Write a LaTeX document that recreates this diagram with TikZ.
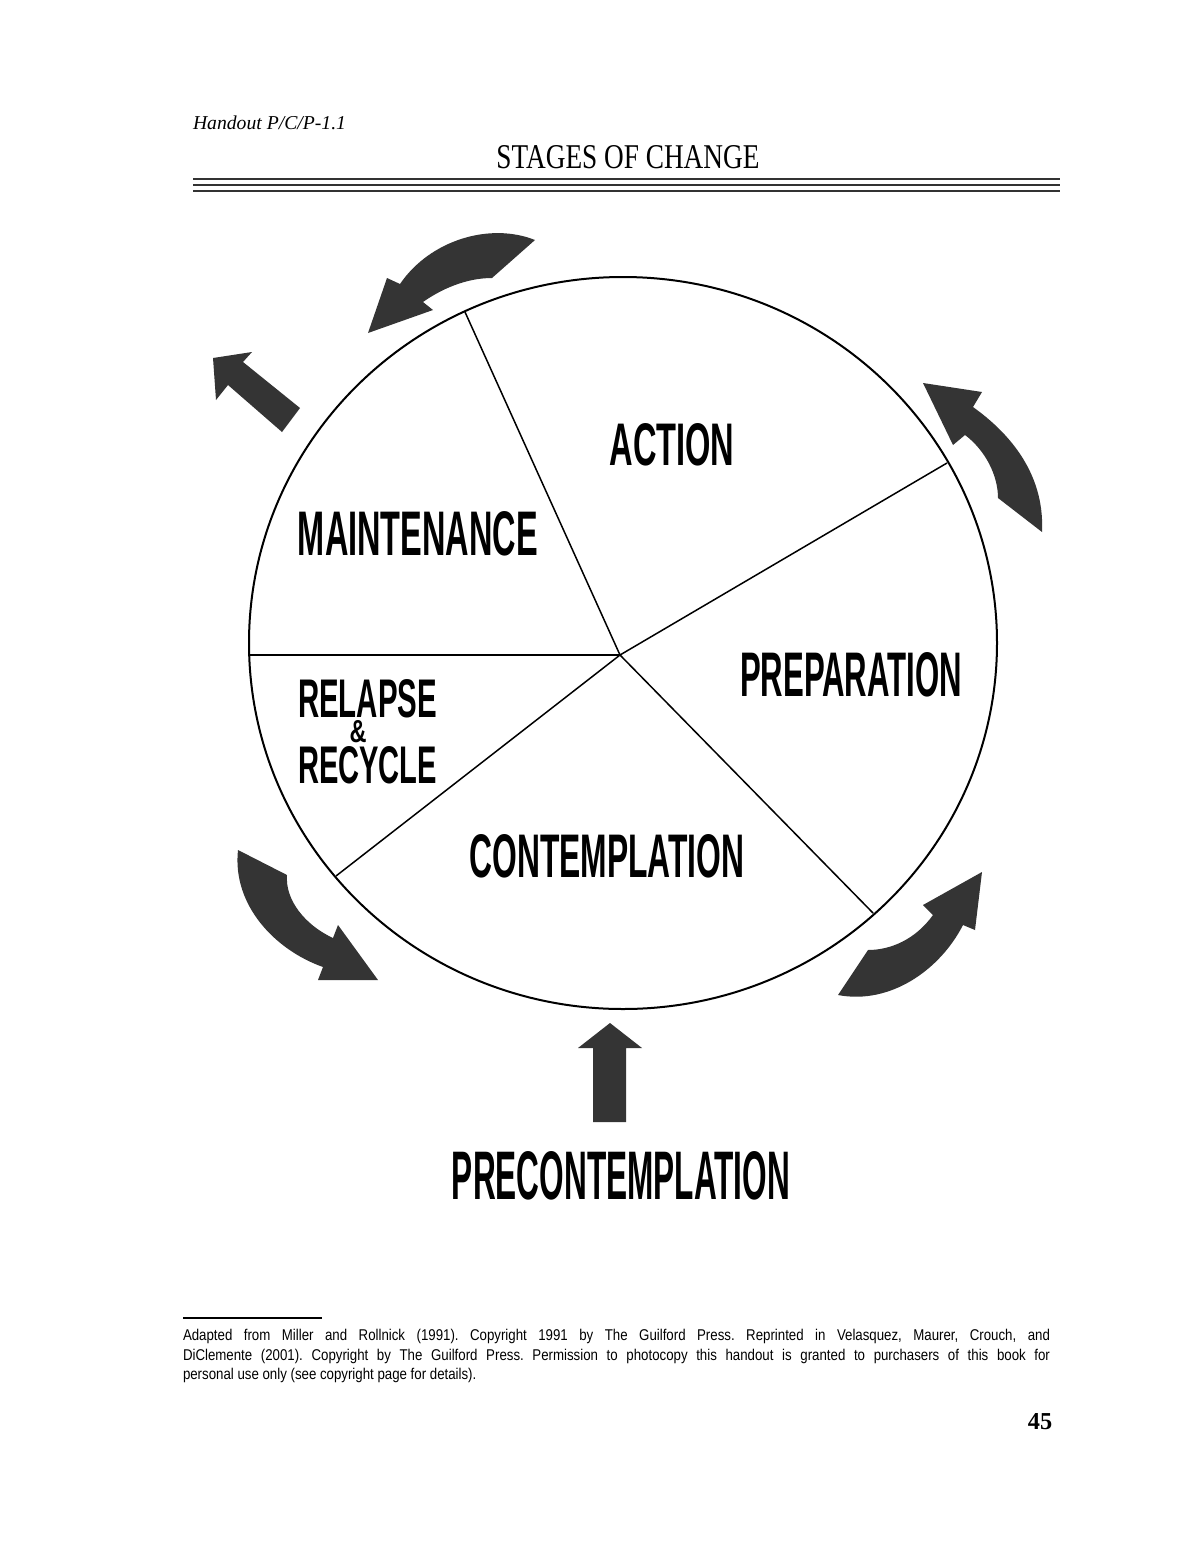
\documentclass[tikz,border=0pt]{standalone}
\usepackage{fontspec}
\setmainfont{Liberation Serif}
\newfontfamily\labfont{Liberation Sans}
\newfontfamily\footfont{Liberation Sans}[FakeStretch=0.85]
\definecolor{arrowgray}{RGB}{52,52,52}
\tikzset{
  bigarrow/.style={fill=arrowgray,draw=none},
  wheel/.style={line width=1pt,draw=black},
  spoke/.style={line width=0.75pt,draw=black},
  rulestyle/.style={line width=0.6pt,draw=black!80},
  plain/.style={inner sep=0pt,outer sep=0pt}
}
\newcommand{\stagelab}[3]{\resizebox{#1pt}{#2pt}{\labfont\bfseries #3}}
\begin{document}
\frenchspacing
\begin{tikzpicture}[x=0.5pt,y=-0.5pt]
\fill[white] (0,0) rectangle (1200,1553);
\useasboundingbox (0,0) rectangle (1200,1553);

% header
\node[plain,anchor=west] (hand) at (193,123) {\resizebox{76.5pt}{!}{\itshape Handout P/C/P-1.1}};
\node[plain] (title) at (628,157) {\resizebox{131.5pt}{11.5pt}{STAGES OF CHANGE}};
\draw[rulestyle] (193,179) -- (1060,179);
\draw[rulestyle] (193,185) -- (1060,185);
\draw[rulestyle,line width=0.8pt] (193,191) -- (1060,191);

% wheel
\coordinate (ctr) at (623,643);
\coordinate (hub) at (620,655);
\coordinate (pTop) at (465,312);
\coordinate (pRU) at (947,463);
\coordinate (pRL) at (873,913);
\coordinate (pLL) at (336,876);
\coordinate (pL) at (250,655);
\draw[wheel] (ctr) ellipse [x radius=187pt, y radius=183pt];
\draw[spoke] (hub) -- (pTop);
\draw[spoke] (hub) -- (pRU);
\draw[spoke] (hub) -- (pRL);
\draw[spoke] (hub) -- (pLL);
\draw[spoke] (hub) -- (pL);

% labels
\node[plain] (action) at (672,445) {\stagelab{62.5}{21}{ACTION}};
\node[plain] (maint) at (418,534) {\stagelab{120}{22}{MAINTENANCE}};
\node[plain] (prep) at (851,675) {\stagelab{111}{22}{PREPARATION}};
\node[plain,anchor=north west] (relapse) at (298,679) {\vbox{\offinterlineskip
  \hbox{\stagelab{69.5}{19}{RELAPSE}}\kern1.5pt
  \hbox{\hspace*{25.75pt}\stagelab{8.5}{11}{\&}}\kern2pt
  \hbox{\stagelab{69.5}{18.5}{RECYCLE}}}};
\node[plain] (contemp) at (607,856) {\stagelab{137.5}{21.5}{CONTEMPLATION}};
\node[plain] (precon) at (621,1176) {\stagelab{169}{24}{PRECONTEMPLATION}};

% arrows
% top (toward maintenance, pointing down-left)
\fill[bigarrow] (535,240) .. controls (490,222) and (430,240) .. (400,284)
  -- (387,278) -- (368,333) -- (433,310) -- (423,302)
  .. controls (440,290) and (465,278) .. (492,278) -- cycle;
% left straight exit arrow
\fill[bigarrow] (213,358) -- (252,352) -- (243,362) -- (300,408) -- (282,432)
  -- (228,385) -- (216,400) -- cycle;
% right upper (pointing up-left)
\fill[bigarrow] (923,383) -- (982,392) -- (973,407)
  .. controls (1005,430) and (1045,470) .. (1042,532)
  -- (998,498) .. controls (998,475) and (985,450) .. (965,435)
  -- (953,445) -- cycle;
% lower left (pointing down-right)
\fill[bigarrow] (238,850) .. controls (232,905) and (275,950) .. (323,967)
  -- (318,980) -- (378,980) -- (338,925) -- (333,938)
  .. controls (305,925) and (285,900) .. (287,875) -- cycle;
% lower right (pointing up-right)
\fill[bigarrow] (838,995) .. controls (890,1005) and (940,970) .. (963,925)
  -- (975,930) -- (982,872) -- (923,905) -- (933,915)
  .. controls (915,940) and (890,950) .. (868,950) -- cycle;
% bottom straight up
\fill[bigarrow] (610,1023) -- (642,1048) -- (626,1048) -- (626,1122)
  -- (593,1122) -- (593,1048) -- (578,1048) -- cycle;

% footer
\draw[line width=0.6pt] (183,1318) -- (322,1318);
\node[plain,anchor=base west] (f1) at (183,1340) {\footfont\fontsize{7.8}{10}\selectfont\makebox[433.5pt][s]{Adapted from Miller and Rollnick (1991). Copyright 1991 by The Guilford Press. Reprinted in Velasquez, Maurer, Crouch, and}};
\node[plain,anchor=base west] (f2) at (183,1360) {\footfont\fontsize{7.8}{10}\selectfont\makebox[433.5pt][s]{DiClemente (2001). Copyright by The Guilford Press. Permission to photocopy this handout is granted to purchasers of this book for}};
\node[plain,anchor=base west] (f3) at (183,1379) {\footfont\fontsize{7.8}{10}\selectfont personal use only (see copyright page for details).};
\node[plain] (page) at (1040,1422) {\resizebox{!}{8pt}{\bfseries 45}};
\end{tikzpicture}
\end{document}
